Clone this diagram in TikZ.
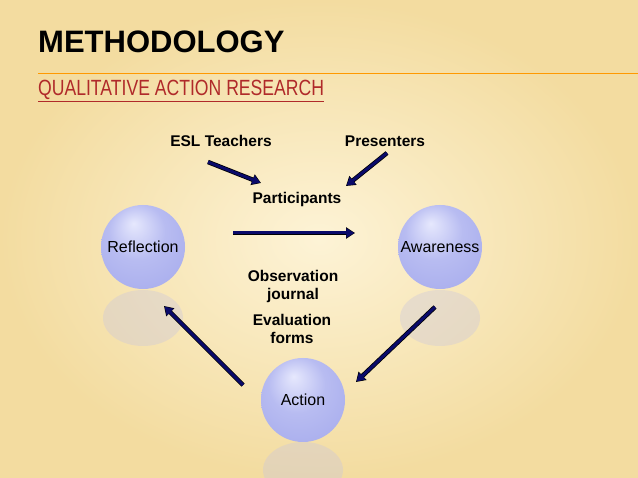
\documentclass[tikz,border=0pt]{standalone}
\usepackage{fontspec}
\setmainfont{Liberation Sans}
\usetikzlibrary{arrows.meta,shadings}
\definecolor{bgA}{HTML}{FDF3D6}
\definecolor{bgB}{HTML}{F3DCA0}
\definecolor{navy}{HTML}{0A0A6A}
\definecolor{ball}{HTML}{A4A9EC}
\definecolor{ballL}{HTML}{E6E8FD}
\definecolor{refc}{HTML}{C8C4E0}
\definecolor{redt}{HTML}{B02A2A}
\pgfdeclareradialshading{myball}{\pgfpoint{-0.2cm}{0.5cm}}{color(0cm)=(ballL);color(0.6cm)=(ball!70!ballL);color(1.4cm)=(ball);color(1.7cm)=(ball!85!blue)}
\tikzset{
 ballnode/.style={circle,minimum size=84pt,inner sep=0pt,shading=myball,font=\fontsize{16}{18}\selectfont},
 lbl/.style={font=\bfseries\fontsize{15.5}{18}\selectfont,align=center},
 fat/.style={line width=4.5pt,draw=black,-{Triangle[length=9pt,width=11pt]}},
 fatin/.style={line width=3pt,draw=navy,-{Triangle[length=8pt,width=9pt]},shorten >=0.7pt}
}
\begin{document}
\begin{tikzpicture}[x=1pt,y=-1pt]
\useasboundingbox (0,0) rectangle (638,478);
\shade[inner color=bgA,outer color=bgB] (0,0) rectangle (638,478);
\draw[orange!80!yellow,line width=0.8pt] (38,73) -- (638,73);
\node[anchor=west,font=\bfseries\fontsize{31}{34}\selectfont,inner sep=0pt] (title) at (38,42) {METHODOLOGY};
\node[anchor=west,font=\fontsize{22}{24}\selectfont,text=redt,xscale=0.8,inner sep=0pt] (sub) at (38,91) {\underline{QUALITATIVE ACTION RESEARCH}};
% reflections
\foreach \x/\y in {143/318,440/318,303/470}{\fill[refc,opacity=0.35] (\x,\y) ellipse (40 and 28);}
\node[ballnode] (refl) at (143,247) {Reflection};
\node[ballnode] (aware) at (440,247) {Awareness};
\node[ballnode] (act) at (303,400) {Action};
\node[lbl] (esl) at (221,141) {ESL Teachers};
\node[lbl] (pres) at (385,141) {Presenters};
\node[lbl] (part) at (297,199) {Participants};
\node[lbl] (obs) at (293,286) {Observation\\journal};
\node[lbl] (eval) at (292,329) {Evaluation\\forms};
\coordinate (a1) at (208,162); \coordinate (a2) at (261,183);
\coordinate (b1) at (387,153); \coordinate (b2) at (346,186);
\coordinate (c1) at (233,233); \coordinate (c2) at (355,233);
\coordinate (d1) at (243,385); \coordinate (d2) at (164,306);
\coordinate (e1) at (435,307); \coordinate (e2) at (356,382);
\foreach \p/\q in {a1/a2,b1/b2,c1/c2,d1/d2,e1/e2}{
 \draw[fat] (\p) -- (\q);
 \draw[fatin] (\p) -- (\q);}
\end{tikzpicture}
\end{document}
